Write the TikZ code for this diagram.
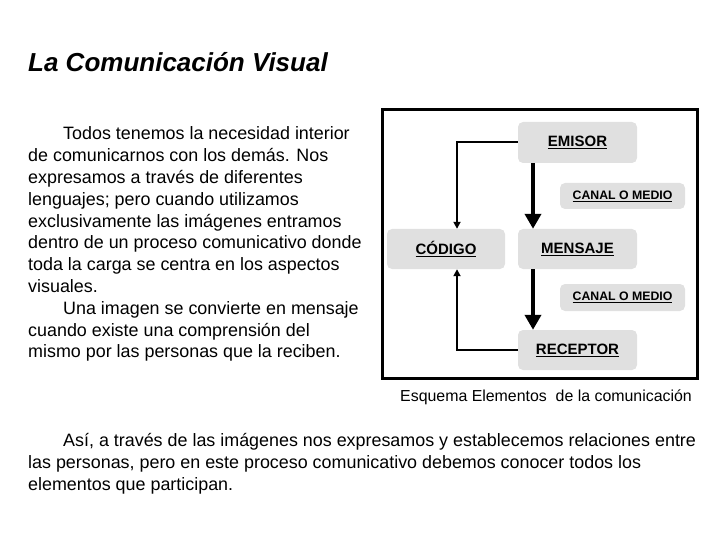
\documentclass[tikz,border=0pt]{standalone}
\usepackage{fontspec}
\setmainfont{Liberation Sans}
\usetikzlibrary{arrows.meta}
\begin{document}
\begin{tikzpicture}[x=1pt,y=-1pt,
  txt/.style={anchor=base west,inner sep=0pt,font=\fontsize{17.9}{21}\selectfont},
  gbox/.style={fill=black!12,rounded corners=5pt,inner sep=0pt},
  lab/.style={font=\fontsize{15}{18}\selectfont\bfseries},
  slab/.style={font=\fontsize{12.3}{14}\selectfont\bfseries},
  bigarrow/.style={line width=4.5pt,-{Triangle[width=16pt,length=15pt]}},
  smallarrow/.style={line width=2pt,-{Triangle[width=7pt,length=7pt]}}]
\useasboundingbox (0,0) rectangle (720,540);
\node[anchor=base west,inner sep=0pt,font=\fontsize{26}{30}\selectfont\bfseries\itshape] (title) at (28,72) {La Comunicación Visual};
\foreach \t [count=\i] in {{\hspace*{35pt}Todos tenemos la necesidad interior},{de comunicarnos con los demás. Nos},{expresamos a través de diferentes},{lenguajes; pero cuando utilizamos},{exclusivamente las imágenes entramos},{dentro de un proceso comunicativo donde},{toda la carga se centra en los aspectos},{visuales.},{\hspace*{35pt}Una imagen se convierte en mensaje},{cuando existe una comprensión del},{mismo por las personas que la reciben.}}
  \node[txt] (p\i) at (28,{118+\i*21.8}) {\t};
\draw[line width=3pt] (382,110) rectangle (697,378);
\node[gbox,minimum width=119pt,minimum height=41pt] (emisor) at (577.5,142.5) {};
\node[lab] (emisorl) at (emisor) {\underline{EMISOR}};
\node[gbox,minimum width=125pt,minimum height=26pt] (c1) at (622.5,196) {};
\node[slab] (c1l) at (c1) {\underline{CANAL O MEDIO}};
\node[gbox,minimum width=118pt,minimum height=40pt] (codigo) at (446,249) {};
\node[lab] (codigol) at (codigo) {\underline{CÓDIGO}};
\node[gbox,minimum width=119pt,minimum height=40pt] (mensaje) at (577.5,249) {};
\node[lab] (mensajel) at (mensaje) {\underline{MENSAJE}};
\node[gbox,minimum width=125pt,minimum height=27pt] (c2) at (622.5,297.5) {};
\node[slab] (c2l) at (c2) {\underline{CANAL O MEDIO}};
\node[gbox,minimum width=119pt,minimum height=40pt] (receptor) at (577.5,350) {};
\node[lab] (receptorl) at (receptor) {\underline{RECEPTOR}};
\draw[bigarrow] (533,0|-emisor.south) -- (533,0|-mensaje.north);
\draw[bigarrow] (533,0|-mensaje.south) -- (533,0|-receptor.north);
\draw[smallarrow] (emisor.west) -- (457,142.5) -- (457,0|-codigo.north);
\draw[smallarrow] (receptor.west) -- (457,350) -- (457,0|-codigo.south);
\node[anchor=base west,inner sep=0pt,font=\fontsize{15.9}{19}\selectfont] (cap) at (400,401) {Esquema Elementos\ \ de la comunicación};
\node[txt] (q1) at (28,446) {\hspace*{35pt}Así, a través de las imágenes nos expresamos y establecemos relaciones entre};
\node[txt] (q2) at (28,468) {las personas, pero en este proceso comunicativo debemos conocer todos los};
\node[txt] (q3) at (28,490) {elementos que participan.};
\end{tikzpicture}
\end{document}
